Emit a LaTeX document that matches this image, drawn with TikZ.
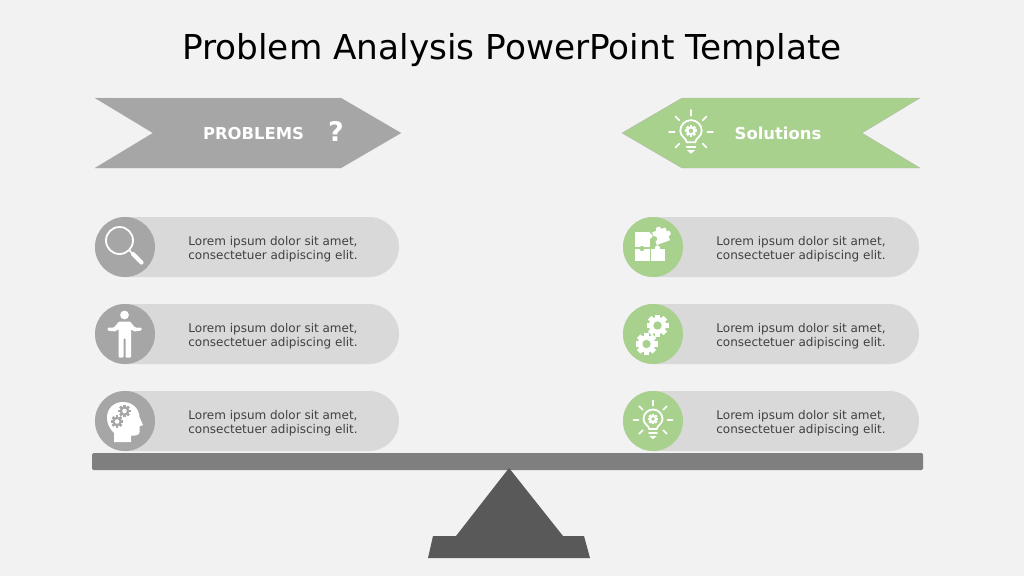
\documentclass[tikz,border=0pt]{standalone}
\usepackage{fontspec}
\setmainfont{DejaVu Sans}
\definecolor{pagegray}{HTML}{F2F2F2}
\definecolor{ribbongray}{HTML}{A6A6A6}
\definecolor{pillgray}{HTML}{D9D9D9}
\definecolor{leafgreen}{HTML}{A9D18E}
\definecolor{beamgray}{HTML}{7F7F7F}
\definecolor{basegray}{HTML}{595959}
\definecolor{inkgray}{HTML}{404040}
\tikzset{
  pillbox/.style={fill=pillgray,minimum width=#1,minimum height=60pt,rounded corners=30pt,inner sep=0pt},
  iconcircle/.style={circle,fill=#1,minimum size=60pt,inner sep=0pt},
  pilltext/.style={text=inkgray,align=center,font=\fontsize{12}{14}\selectfont},
  headtext/.style={text=white,font=\fontsize{#1}{#1}\selectfont\bfseries},
  iconline/.style={draw=white,line width=#1,line cap=round},
}
% gear: x, y, outer radius, hole colour
\newcommand{\geargly}[4]{
  \foreach \a in {0,45,...,315}
    \fill[white,shift={(#1,#2)},rotate=\a] (-0.24*#3,0) rectangle (0.24*#3,#3);
  \fill[white] (#1,#2) circle[radius=0.78*#3];
  \fill[#4] (#1,#2) circle[radius=0.38*#3];
}
% bulb: x, y, scale, fill colour
\newcommand{\bulbgly}[4]{
  \begin{scope}[shift={(#1,#2)},scale=#3]
    \foreach \a in {0,45,90,135,180,225,-45}
      \draw[iconline=1.6pt,rotate=\a] (14.5,0) -- (19.5,0);
    \draw[iconline=1.8pt] (-3.8,9) .. controls (-4,5.5) and (-9.5,4) .. (-9.5,-1)
      arc[start angle=180,end angle=360,radius=9.5] .. controls (9.5,4) and (4,5.5) .. (3.8,9) -- cycle;
    \draw[iconline=1.8pt] (-4,13) -- (4,13);
    \fill[white] (-3.6,16) -- (3.6,16) -- (0,19.2) -- cycle;
  \end{scope}
  \geargly{#1}{#2-1*#3}{5.2*#3}{#4}
}
\begin{document}
\begin{tikzpicture}[x=1pt,y=-1pt]
  \useasboundingbox (0,0) rectangle (1024,576);
  \fill[pagegray] (0,0) rectangle (1024,576);
  \node (title) at (512,50.5) {\fontsize{34.3}{38}\selectfont Problem Analysis PowerPoint Template};

  \fill[ribbongray,draw=gray!70,draw opacity=0.4] (95,98) -- (341,98) -- (401,133) -- (341,168) -- (95,168) -- (153,133) -- cycle;
  \fill[leafgreen,draw=gray!70,draw opacity=0.6] (622,133) -- (682,98) -- (920,98) -- (862,133) -- (920,168) -- (682,168) -- cycle;
  \node[headtext=16.4] (problems) at (253.5,133.5) {PROBLEMS};
  \node[headtext=27] (mark) at (336,131) {?};
  \node[headtext=16.4] (solutions) at (778,133.5) {Solutions};
  \bulbgly{691}{132}{1.13}{leafgreen}

  \foreach \n/\y in {1/247,2/334,3/421} {
    \node[pillbox=304pt] (probpill\n) at (247,\y) {};
    \node[iconcircle=ribbongray] (probicon\n) at (125,\y) {};
    \node[pilltext] (probtext\n) at (273,\y+2.5) {Lorem ipsum dolor sit amet,\\consectetuer adipiscing elit.};
    \node[pillbox=296pt] (solpill\n) at (771,\y) {};
    \node[iconcircle=leafgreen] (solicon\n) at (653,\y) {};
    \node[pilltext] (soltext\n) at (801,\y+2.5) {Lorem ipsum dolor sit amet,\\consectetuer adipiscing elit.};
  }

  % magnifier
  \draw[white,line width=1.8pt] (119.5,240.5) circle[radius=13.5];
  \draw[iconline=1.6pt] (129.5,250.5) -- (133,254);
  \draw[iconline=4.2pt] (133,254) -- (141.5,262.5);

  % person
  \fill[white] (124.5,315) circle[radius=4.4];
  \fill[white,rounded corners=1pt] (119,321.5) -- (130,321.5) -- (135,327.5) -- (141.5,327.5) -- (141.5,330.5) -- (134,331.5) -- (131,329)
    -- (131,357.5) -- (125.5,357.5) -- (125.5,338) -- (123.5,338) -- (123.5,357.5) -- (118.5,357.5) -- (118.5,329) -- (115,331.5) -- (107.5,330.5) -- (107.5,327.5) -- (114,327.5) -- cycle;

  % head
  \fill[white] (114,442) -- (114,433) .. controls (109,428) and (107,423) .. (107,418)
    .. controls (107,408) and (114,402) .. (123,402) .. controls (133,402) and (139,409) .. (139.5,417)
    -- (143,425) -- (139.5,426.5) -- (139.5,432) .. controls (139.5,435) and (136,436) .. (131,435.5) -- (131,442) -- cycle;
  \foreach \x/\y in {124.5/411,117/421.5} {
    \foreach \a in {0,45,...,315}
      \fill[ribbongray,shift={(\x,\y)},rotate=\a] (-1.3,0) rectangle (1.3,6.2);
    \fill[ribbongray] (\x,\y) circle[radius=4.8];
    \fill[white] (\x,\y) circle[radius=2.3];
  }

  % puzzle
  \fill[white] (635,232) rectangle (649.5,247);
  \fill[white] (650,236) circle[radius=2.6];
  \fill[white] (635,248.5) rectangle (649.5,261);
  \fill[leafgreen] (642,248.5) circle[radius=2.6];
  \fill[white] (651,248.5) rectangle (665,261);
  \fill[white] (657.5,248) circle[radius=2.6];
  \begin{scope}[rotate around={20:(661,236)}]
    \fill[white] (654,229.5) rectangle (668,243);
    \fill[white] (661,229) circle[radius=2.8];
    \fill[white] (668.5,236) circle[radius=2.8];
    \fill[leafgreen] (654,236.5) circle[radius=2.6];
  \end{scope}

  % gears and bulb
  \geargly{657.5}{325.5}{11}{leafgreen}
  \geargly{646.5}{344}{11}{leafgreen}
  \bulbgly{653}{420}{1}{leafgreen}

  % beam and stand
  \fill[beamgray,rounded corners=1.5pt] (92,453) rectangle (923,470);
  \fill[basegray] (509,468) -- (563,536) -- (584,536) -- (590,558) -- (428,558) -- (433,536) -- (456,536) -- cycle;
\end{tikzpicture}
\end{document}
